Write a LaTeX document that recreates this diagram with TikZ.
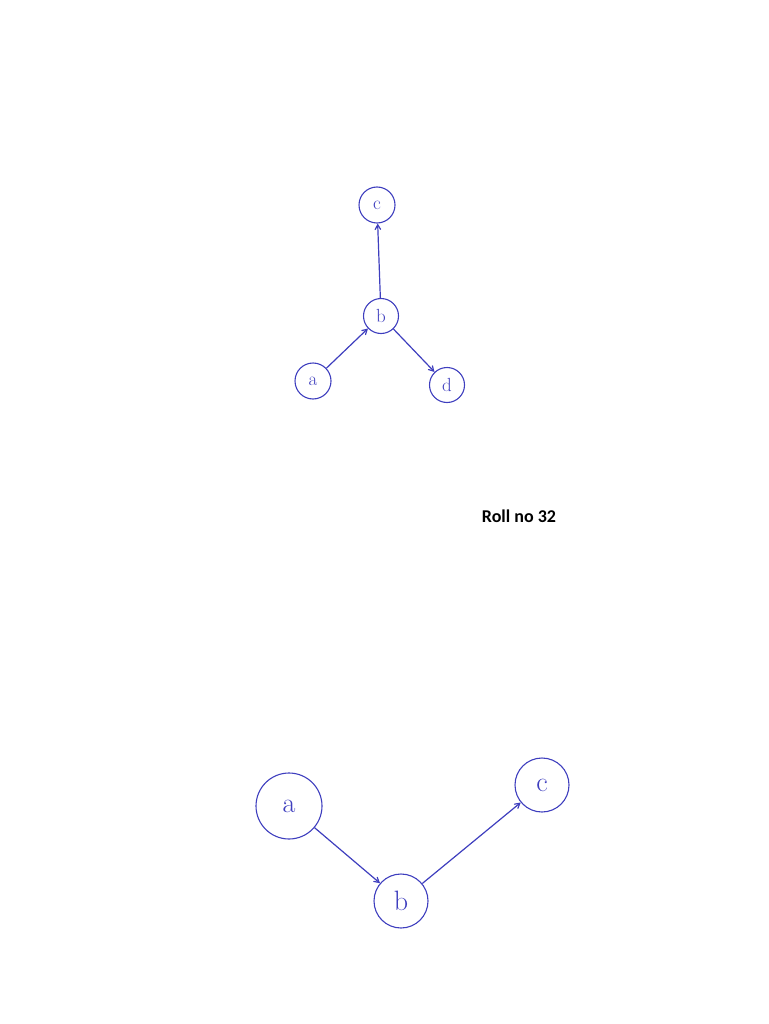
\documentclass[tikz,border=0pt]{standalone}
\usepackage{fontspec}
\usepackage{tikz}
\usetikzlibrary{arrows,automata}
\newfontfamily\rollfont{Carlito}
\definecolor{ink}{RGB}{62,62,190}

\begin{document}
\begin{tikzpicture}[x=1pt,y=-1pt,->,>=angle 60,shorten >=0pt,auto,
                    line width=1.2pt,draw=ink]
  \tikzstyle{every state}=[fill=none,draw=ink,text=ink,inner sep=0pt,
                           line width=1.1pt,font=\fontsize{19}{21}\selectfont]
  \tikzstyle{big state}=[state,font=\fontsize{28}{30}\selectfont]
  \useasboundingbox (0,0) rectangle (768,1024);

  % first graph
  \node[state,minimum size=35pt] (b1) at (381,316) {b};
  \node[state,minimum size=36pt] (c1) at (377,205) {c};
  \node[state,minimum size=36pt] (a1) at (313,381) {a};
  \node[state,minimum size=35pt] (d1) at (447,385) {d};

  \path (b1) edge (c1)
        (a1) edge (b1)
        (b1) edge (d1);

  \node[font=\rollfont\bfseries\fontsize{18}{21}\selectfont] (roll) at (519,516) {Roll no 32};

  % second graph
  \node[big state,minimum size=66pt] (a2) at (289,806) {a};
  \node[big state,minimum size=54pt] (b2) at (401,901) {b};
  \node[big state,minimum size=54pt] (c2) at (542,785) {c};

  \path (a2) edge (b2)
        (b2) edge (c2);
\end{tikzpicture}
\end{document}
